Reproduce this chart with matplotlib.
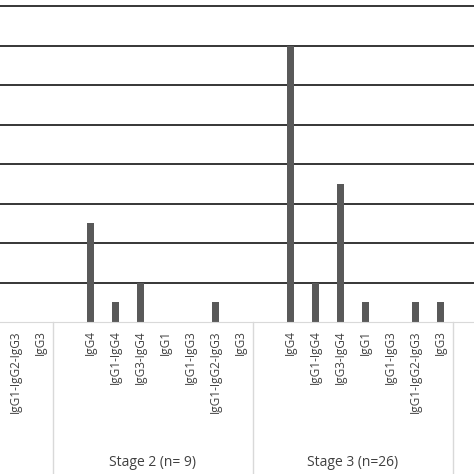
import matplotlib
matplotlib.use("Agg")
import matplotlib.pyplot as plt
import matplotlib.transforms as mtransforms

categories = ["IgG4", "IgG1-IgG4", "IgG3-IgG4", "IgG1", "IgG1-IgG3", "IgG1-IgG2-IgG3", "IgG3"]
stages = ["Stage 1 (n=?)", "Stage 2 (n= 9)", "Stage 3 (n=26)"]
stage1 = [0, 0, 0, 0, 0, 0, 0]
stage2 = [5, 1, 2, 0, 0, 1, 0]
stage3 = [14, 2, 7, 1, 0, 1, 1]
values = [stage1, stage2, stage3]

plt.rcParams['font.family'] = ['Open Sans', 'DejaVu Sans']
fig = plt.figure(figsize=(4.74, 4.74), dpi=100)
ax = fig.add_axes([0, 152/474, 1, 322/474])

pos, labs, hts = [], [], []
for g, vals in enumerate(values):
    for k, (c, v) in enumerate(zip(categories, vals)):
        pos.append(8 * g + k + 1)
        labs.append(c)
        hts.append(v)

ax.set_axisbelow(True)
for y in range(2, 17, 2):
    ax.axhline(y, color="black", lw=1.1, zorder=0)
ax.bar(pos, hts, width=0.28, color="#595959", zorder=2)
ax.set_xticks(pos)
ax.set_xticklabels(labs, rotation=90, fontsize=8.5, color="#404040", va="top")
ax.set_xlim(5.38, 24.34)
ax.set_ylim(0, 322 / 19.75)
ax.tick_params(axis="x", length=0, pad=6)
ax.set_yticks([])
for s in ["top", "right", "left"]:
    ax.spines[s].set_visible(False)
ax.spines["bottom"].set_color("#d9d9d9")

trans = mtransforms.blended_transform_factory(ax.transData, ax.transAxes)
for g in range(4):
    x = 8 * g - 0.5
    ax.plot([x, x], [0, -152/322], color="#d9d9d9", lw=1, transform=trans, clip_on=False)
for g, s in enumerate(stages):
    ax.text(8 * g + 3.5, -140/322, s, transform=trans, ha="center", va="center",
            fontsize=10, color="#404040")

fig.savefig("out.png", dpi=100)
